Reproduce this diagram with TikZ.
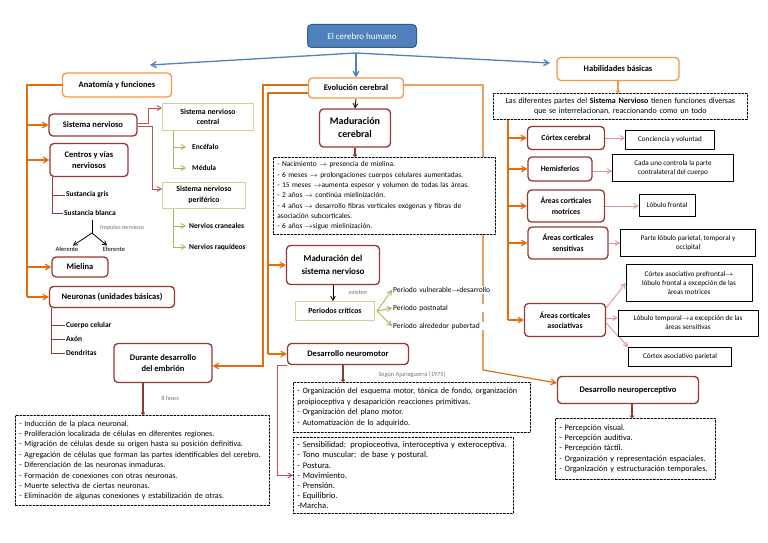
\documentclass[tikz,border=0pt]{standalone}
\usepackage{fontspec}
\setmainfont{Carlito}
\usetikzlibrary{arrows,arrows.meta,backgrounds}

\definecolor{naranja}{HTML}{F79646}
\definecolor{naranjaosc}{HTML}{E46C0A}
\definecolor{granate}{HTML}{953735}
\definecolor{rosa}{HTML}{D99694}
\definecolor{rojo}{HTML}{C0504D}
\definecolor{verde}{HTML}{9BBB59}
\definecolor{verdeclaro}{HTML}{C3D69B}
\definecolor{azul}{HTML}{4F81BD}
\definecolor{azulosc}{HTML}{385D8A}

\begin{document}
\begin{tikzpicture}[line cap=round,line join=round,>=angle 60,x=1pt,y=-1pt,
	caja/.style={draw=#1,line width=1.3pt,rounded corners=4pt,fill=white,align=center,inner sep=1pt,font=\fontsize{8.5}{11.5}\selectfont\bfseries},
	rcaja/.style={caja=granate,font=\fontsize{7.8}{10.5}\selectfont\bfseries},
	verdecaja/.style={draw=verdeclaro,line width=1pt,fill=white,align=center,inner sep=1pt,font=\fontsize{7.8}{10.5}\selectfont\bfseries},
	titulo/.style={draw=azulosc,fill=azul,text=white,line width=1pt,rounded corners=4pt,font=\fontsize{9}{11}\selectfont},
	texto/.style={draw,line width=0.7pt,fill=white,align=center,inner sep=1pt,font=\fontsize{7.2}{9}\selectfont},
	recuadro/.style={draw,dash pattern=on 2pt off 1.5pt,line width=0.7pt,fill=white,anchor=north west,align=left,inner xsep=4pt,inner ysep=2pt,font=\fontsize{8}{10.4}\selectfont},
	item/.style={anchor=west,inner sep=1pt,font=\fontsize{7.5}{9}\selectfont\bfseries},
	periodo/.style={anchor=west,fill=white,text width=110,inner sep=1pt,font=\fontsize{7.5}{8}\selectfont},
	etiqueta/.style={inner sep=1pt,text=black!55,font=\fontsize{6.3}{7}\selectfont},
	orfl/.style={draw=naranjaosc,line width=1.2pt},
	azulfl/.style={draw=azul,line width=1.3pt},
	rojofl/.style={draw=rojo,line width=0.9pt},
	rosafl/.style={draw=rosa,line width=0.9pt},
	subfl/.style={draw=granate,line width=0.9pt},
	verdefl/.style={draw=verde,line width=0.9pt},
	negrofl/.style={draw=black,line width=0.8pt},
	gruesa/.style={draw=granate,line width=2.2pt,-{Triangle[length=2.5pt,width=5pt]}}]
\useasboundingbox (0,0) rectangle (768,543);

% centro
\node[titulo,minimum width=109,minimum height=23] (cerebro) at (362,36) {El cerebro humano};

% anatomia y funciones
\node[caja=naranja,minimum width=109,minimum height=24] (anatomia) at (117,85) {Anatomía y funciones};
\node[caja=granate,minimum width=88,minimum height=22] (sisnerv) at (93,125) {Sistema nervioso};
\node[caja=granate,minimum width=78,minimum height=33] (centros) at (89,160) {Centros y vías\\nerviosos};
\node[caja=granate,minimum width=56,minimum height=20] (mielina) at (80,267) {Mielina};
\node[caja=granate,minimum width=125,minimum height=21] (neuronas) at (112,297) {Neuronas (unidades básicas)};
\node[verdecaja,minimum width=91,minimum height=27] (snc) at (208,117) {Sistema nervioso\\central};
\node[verdecaja,minimum width=83,minimum height=26] (snp) at (204,195) {Sistema nervioso\\periférico};
\node[item,inner xsep=6pt] (encefalo) at (186,147) {Encéfalo};
\node[item,inner xsep=6pt] (medula) at (186,168) {Médula};
\node[item,inner xsep=3pt] (craneales) at (186,226) {Nervios craneales};
\node[item,inner xsep=3pt] (raquideos) at (186,247) {Nervios raquídeos};
\node[item] (gris) at (65,195) {Sustancia gris};
\node[item] (blanca) at (63,213) {Sustancia blanca};
\node[etiqueta,anchor=west] (impulso) at (99,228) {Impulso nervioso};
\node[inner sep=1pt,font=\fontsize{6.5}{7}\selectfont] (aferente) at (67,249) {Aferente};
\node[inner sep=1pt,font=\fontsize{6.5}{7}\selectfont] (eferente) at (114,249) {Eferente};
\node[item] (cuerpo) at (65,325) {Cuerpo celular};
\node[item] (axon) at (65,339) {Axón};
\node[item] (dendritas) at (65,353) {Dendritas};
\node[caja=granate,minimum width=98,minimum height=39] (durante) at (163,363) {Durante desarrollo\\del embrión};
\node[etiqueta] (fases) at (170,398) {8 fases};
\node[recuadro,text width=246,minimum height=90] (fasesbox) at (15,415) {- Inducción de la placa neuronal.\\
- Proliferación localizada de células en diferentes regiones.\\
- Migración de células desde su origen hasta su posición definitiva.\\
- Agregación de células que forman las partes identificables del cerebro.\\
- Diferenciación de las neuronas inmaduras.\\
- Formación de conexiones con otras neuronas.\\
- Muerte selectiva de ciertas neuronas.\\
- Eliminación de algunas conexiones y estabilización de otras.};

% evolucion cerebral
\node[caja=naranja,minimum width=95,minimum height=20] (evolucion) at (356,88) {Evolución cerebral};
\node[caja=granate,minimum width=71,minimum height=38,font=\fontsize{10}{13}\selectfont\bfseries] (madcer) at (355,128) {Maduración\\cerebral};
\node[recuadro,text width=214,minimum height=77,font=\fontsize{7.4}{10.3}\selectfont] (madbox) at (273,157) {- Nacimiento $\rightarrow$ presencia de mielina.\\
- 6 meses $\rightarrow$ prolongaciones cuerpos celulares aumentadas.\\
- 15 meses $\rightarrow$aumenta espesor y volumen de todas las áreas.\\
- 2 años $\rightarrow$ continúa mielinización.\\
- 4 años $\rightarrow$ desarrollo fibras verticales exógenas y fibras de\\
asociación subcorticales.\\
- 6 años $\rightarrow$sigue mielinización.};
\node[caja=granate,minimum width=93,minimum height=39,font=\fontsize{9}{13}\selectfont\bfseries] (madsn) at (333,265) {Maduración del\\sistema nervioso};
\node[etiqueta] (existen) at (358,292) {existen};
\node[verdecaja,minimum width=79,minimum height=19] (criticos) at (335,311) {Periodos críticos};
\node[periodo] (p1) at (392,290) {Periodo vulnerable$\rightarrow$desarrollo};
\node[periodo] (p2) at (392,308) {Periodo postnatal};
\node[periodo] (p3) at (392,326) {Periodo alrededor pubertad};
\node[caja=granate,minimum width=121,minimum height=21] (neuromotor) at (348,354) {Desarrollo neuromotor};
\node[etiqueta] (segun) at (412,375) {Según Ajuriaguerra (1975)};
\node[recuadro,text width=229,minimum height=50,font=\fontsize{8.1}{10.4}\selectfont] (motbox) at (293,382) {- Organización del esquema motor, tónica de fondo, organización\\
proipioceptiva y desaparición reacciones primitivas.\\
- Organización del plano motor.\\
- Automatización de lo adquirido.};
\node[recuadro,text width=212,minimum height=76,font=\fontsize{8.5}{10.2}\selectfont] (motbox2) at (293,437) {- Sensibilidad: propioceotiva, interoceptiva y exteroceptiva.\\
- Tono muscular: de base y postural.\\
- Postura.\\
- Movimiento.\\
- Prensión.\\
- Equilibrio.\\
-Marcha.};

% habilidades basicas
\node[caja=naranja,minimum width=122,minimum height=23] (habilidades) at (618,69) {Habilidades básicas};
\node[recuadro,align=center,text width=246,minimum height=26] (habnota) at (493,93) {Las diferentes partes del \textbf{Sistema Nervioso} tienen funciones diversas\\que se interrelacionan, reaccionando como un todo};
\node[rcaja,minimum width=77,minimum height=23] (cortex) at (566,138) {Córtex cerebral};
\node[rcaja,minimum width=64,minimum height=24] (hemisferios) at (560,169) {Hemisferios};
\node[rcaja,minimum width=77,minimum height=32] (motrices) at (566,206) {Áreas corticales\\motrices};
\node[rcaja,minimum width=80,minimum height=32] (sensitivas) at (568,243) {Áreas corticales\\sensitivas};
\node[rcaja,minimum width=81,minimum height=33] (asociativas) at (565,320) {Áreas corticales\\asociativas};
\node[texto,minimum width=89,minimum height=19] (conciencia) at (670,140) {Conciencia y voluntad};
\node[texto,minimum width=121,minimum height=27] (cadauno) at (673,168) {Cada uno controla la parte\\contralateral del cuerpo};
\node[texto,minimum width=56,minimum height=22] (lobfrontal) at (667,205) {Lóbulo frontal};
\node[texto,minimum width=135,minimum height=27] (parte) at (688,243) {Parte lóbulo parietal, temporal y\\occipital};
\node[texto,minimum width=126,minimum height=37] (prefrontal) at (689,283) {Córtex asociativo prefrontal$\rightarrow$\\lóbulo frontal a excepción de las\\áreas motrices};
\node[texto,minimum width=140,minimum height=26] (lobtemporal) at (688,323) {Lóbulo temporal$\rightarrow$a excepción de las\\áreas sensitivas};
\node[texto,minimum width=103,minimum height=19] (parietal) at (680,357) {Córtex asociativo parietal};
\node[caja=granate,minimum width=141,minimum height=27] (neuroper) at (628,390) {Desarrollo neuroperceptivo};
\node[recuadro,text width=152,minimum height=61,font=\fontsize{8.2}{10.3}\selectfont] (percbox) at (555,418) {- Percepción visual.\\
- Percepción auditiva.\\
- Percepción táctil.\\
- Organización y representación espaciales.\\
- Organización y estructuración temporales.};

\begin{pgfonlayer}{background}
% flechas azules
\coordinate (hub) at (356,53);
\coordinate (haciaanat) at (150,65);
\coordinate (haciahab) at (550,63);
\draw[azulfl,->] (hub) -- (haciaanat);
\draw[azulfl,->] (hub) -- (haciahab);
\draw[azulfl,->] (hub) -- (evolucion.north);

% rama izquierda
\coordinate (busizq) at (27,85);
\draw[orfl] (anatomia.west) -- (busizq) -- (busizq |- neuronas.west);
\foreach \n in {sisnerv,centros,mielina,neuronas}
	\draw[orfl,->] (busizq |- \n.west) -- (\n.west);
\draw[subfl] ([xshift=3pt]centros.south west) |- (gris.west);
\draw[subfl] ([xshift=3pt]centros.south west) |- (blanca.west);
\foreach \n in {cuerpo,axon,dendritas}
	\draw[subfl] ([xshift=3pt]neuronas.south west) |- (\n.west);
\draw[rojofl,->] ([yshift=1.5pt]sisnerv.east) -- ++(11,0) |- ([yshift=9pt]snc.west);
\draw[rojofl,->] ([yshift=-1.5pt]sisnerv.east) -- ++(15,0) |- ([yshift=6pt]snp.west);
\draw[verdefl,->] ([xshift=-35pt]snc.south) |- (encefalo.west);
\draw[verdefl,->] ([xshift=-35pt]snc.south) |- (medula.west);
\draw[verdefl,->] ([xshift=-31pt]snp.south) |- (craneales.west);
\draw[verdefl,->] ([xshift=-31pt]snp.south) |- (raquideos.west);
\coordinate (impsup) at (92,220);
\coordinate (impbif) at (92,233);
\draw[negrofl] (impsup) -- (impbif);
\draw[negrofl,->] (impbif) -- ([xshift=6pt]aferente.north);
\draw[negrofl,->] (impbif) -- ([xshift=-7pt]eferente.north);
\draw[gruesa] ([xshift=-20pt]durante.south) -- ([xshift=-20pt]durante.south |- fasesbox.north);

% rama central
\draw[orfl,->] ([yshift=3pt]evolucion.west) -| (263,366) -- ([yshift=-3pt]durante.east);
\coordinate (businterior) at (268,93);
\draw[orfl] ([yshift=-5pt]evolucion.west) -- (businterior) -- (businterior |- neuromotor.west);
\draw[orfl,->] (businterior |- madsn.west) -- (madsn.west);
\draw[orfl,->] (businterior |- neuromotor.west) -- (neuromotor.west);
\draw[orfl,->] ([yshift=3pt]evolucion.east) -| (483,370) -- ([yshift=7pt]neuroper.west);
\draw[negrofl,->] (evolucion.south) -- (madcer.north);
\draw[gruesa] (madcer.south) -- (madcer.south |- madbox.north);
\draw[negrofl,->] (madsn.south) -- (madsn.south |- criticos.north);
\foreach \p in {p1,p2,p3}
	\draw[verdefl,->] ([xshift=2pt]criticos.east) -- (\p.west);
\draw[gruesa] ([xshift=-5pt]neuromotor.south) -- ([xshift=-5pt]neuromotor.south |- motbox.north);
\draw[rojofl,->] (neuromotor.south west) -- ++(-9,0) |- (motbox2.west);
\draw[gruesa] ([xshift=4pt]neuroper.south) -- ([xshift=4pt]neuroper.south |- percbox.north);

% rama derecha
\draw[gruesa,draw=naranja] (habilidades.south) -- (habilidades.south |- habnota.north);
\coordinate (busder) at (508,119);
\draw[orfl] (busder) -- (busder |- asociativas.west);
\foreach \n in {cortex,hemisferios,motrices,sensitivas,asociativas}
	\draw[orfl,->] (busder |- \n.west) -- (\n.west);
\draw[rosafl,->] (cortex.east) -- (cortex.east -| conciencia.west);
\draw[rosafl,->] ([yshift=-2pt]hemisferios.east) -- ([yshift=-2pt]hemisferios.east -| cadauno.west);
\draw[rosafl,->] (motrices.east) -- (motrices.east -| lobfrontal.west);
\draw[rosafl,->] (sensitivas.east) -- (sensitivas.east -| parte.west);
\draw[rosafl,->] ([yshift=12pt]asociativas.east) -- (prefrontal.west);
\draw[rosafl,->] ([yshift=2pt]asociativas.east) -- ([yshift=2pt]asociativas.east -| lobtemporal.west);
\draw[rosafl,->] ([yshift=-3pt]asociativas.east) -- (parietal.north west);
\end{pgfonlayer}
\end{tikzpicture}
\end{document}
